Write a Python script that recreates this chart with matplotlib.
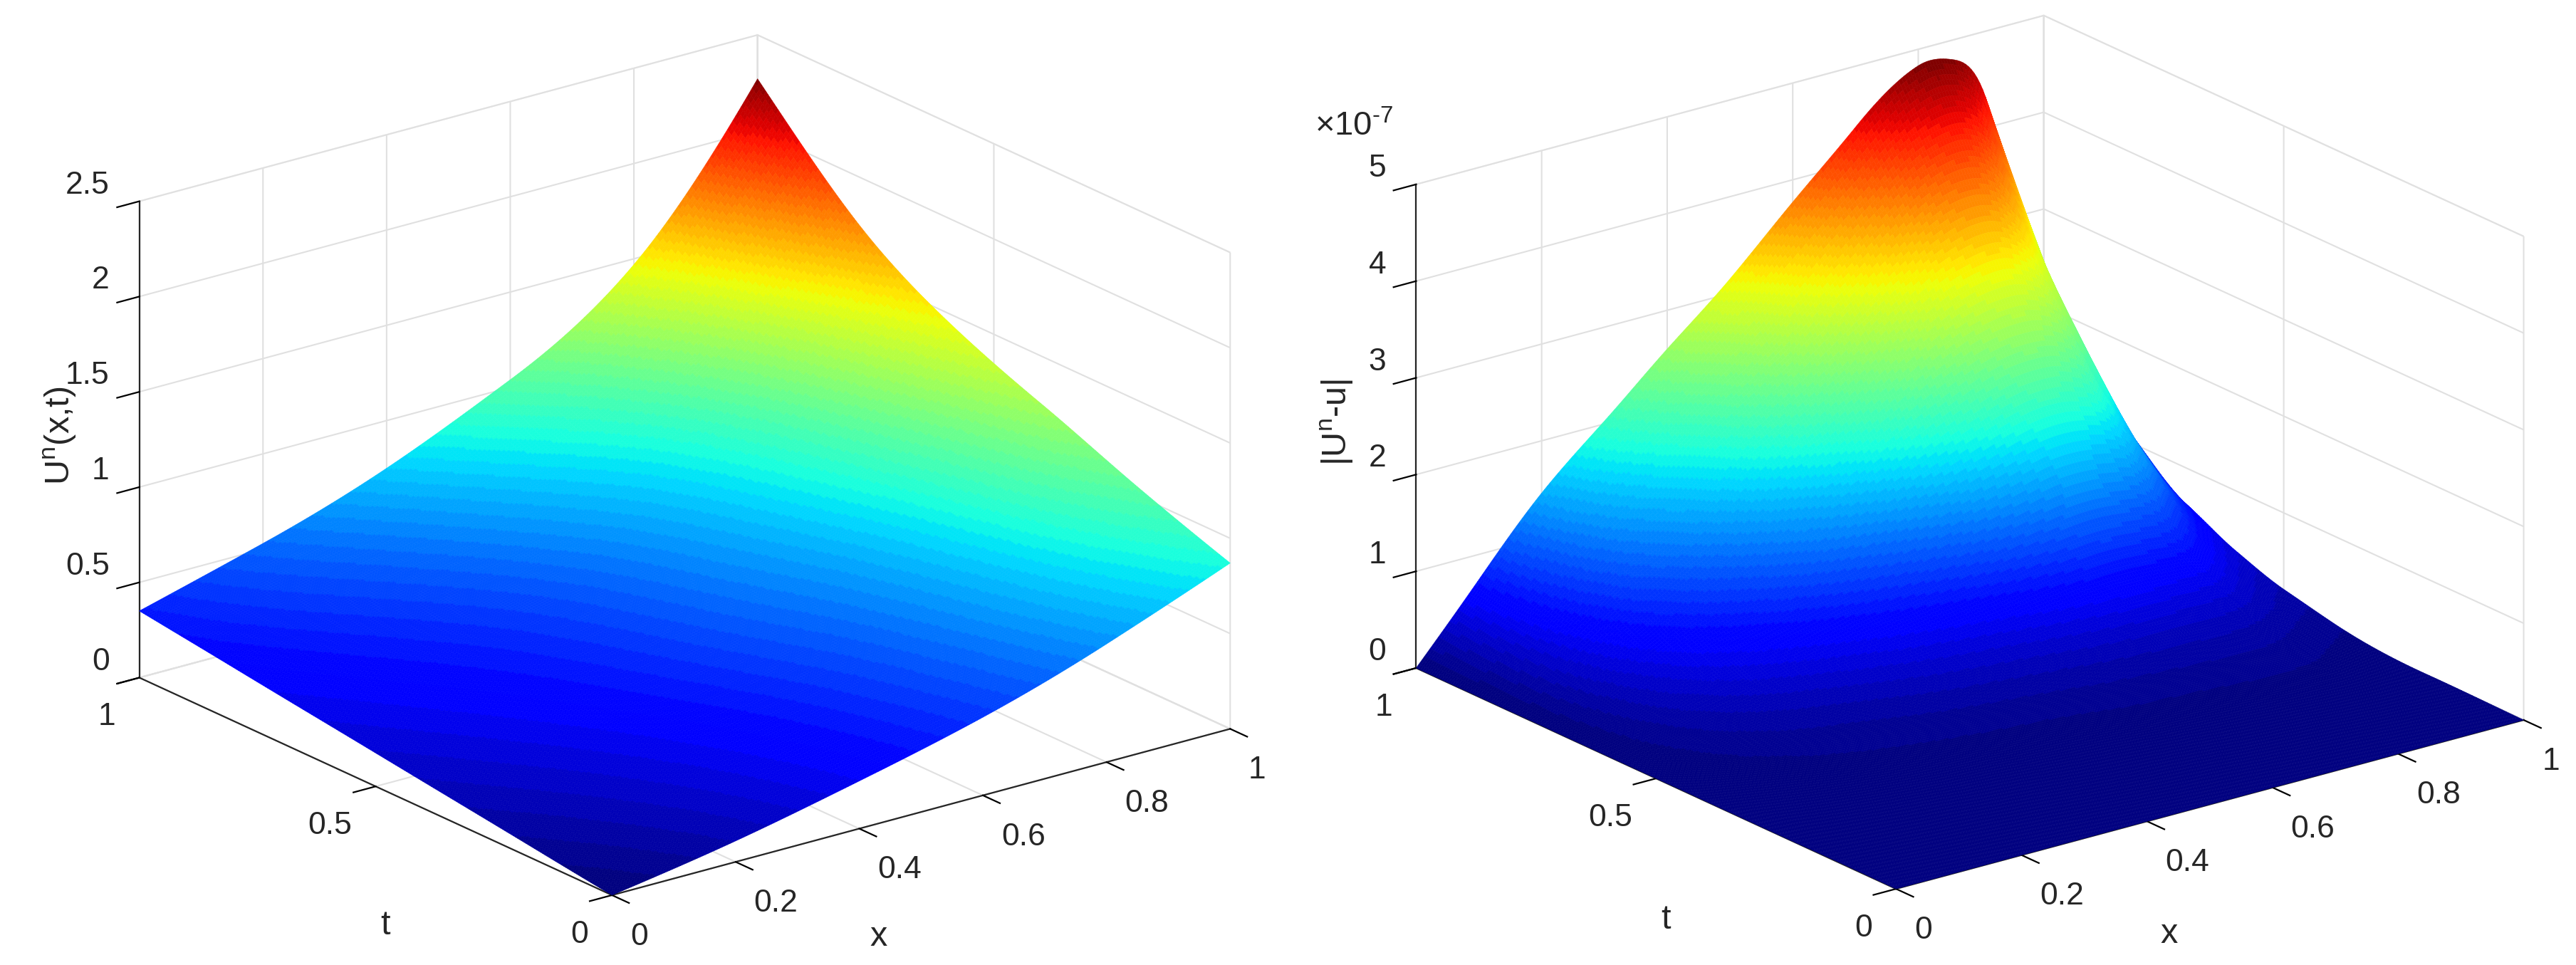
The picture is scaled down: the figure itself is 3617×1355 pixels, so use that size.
import numpy as np
import matplotlib
matplotlib.use('Agg')
import matplotlib.pyplot as plt
import matplotlib.tri as mtri

plt.rcParams['font.family'] = ['Liberation Sans', 'DejaVu Sans']
plt.rcParams['mathtext.fontset'] = 'custom'
plt.rcParams['mathtext.rm'] = 'Liberation Sans'
plt.rcParams['grid.color'] = '#e0e0e0'
plt.rcParams['grid.linewidth'] = 1.5
plt.rcParams['axes.linewidth'] = 1.6
plt.rcParams['axes.edgecolor'] = '#262626'

# values
x_left = [0, 0.2, 0.4, 0.6, 0.8, 1]
t_left = [0, 0.2, 0.4, 0.6, 0.8, 1]
u_left = [
    [0.00, 0.11, 0.25, 0.41, 0.62, 0.87],
    [0.07, 0.17, 0.30, 0.47, 0.72, 1.05],
    [0.14, 0.24, 0.37, 0.55, 0.82, 1.25],
    [0.21, 0.31, 0.44, 0.64, 0.95, 1.46],
    [0.28, 0.40, 0.56, 0.78, 1.14, 1.78],
    [0.35, 0.53, 0.75, 1.04, 1.47, 2.27],
]

x_right = [0, 0.1, 0.2, 0.3, 0.4, 0.5, 0.6, 0.7, 0.8, 0.85, 0.9, 0.95, 1]
t_right = [0, 0.2, 0.4, 0.5, 0.6, 0.7, 0.8, 0.9, 1]
err_right = [
    [0, 0, 0, 0, 0, 0, 0, 0, 0, 0, 0, 0, 0],
    [0, 0.004, 0.007, 0.01, 0.013, 0.016, 0.019, 0.022, 0.024, 0.024, 0.022, 0.016, 0.011],
    [0, 0.03, 0.066, 0.09, 0.117, 0.14, 0.17, 0.196, 0.21, 0.21, 0.19, 0.14, 0.10],
    [0, 0.08, 0.16, 0.22, 0.29, 0.35, 0.41, 0.48, 0.50, 0.48, 0.44, 0.31, 0.21],
    [0, 0.17, 0.34, 0.47, 0.60, 0.72, 0.86, 1.00, 1.05, 1.01, 0.88, 0.60, 0.38],
    [0, 0.30, 0.60, 0.83, 1.07, 1.29, 1.54, 1.78, 1.90, 1.83, 1.58, 1.06, 0.62],
    [0, 0.46, 0.91, 1.26, 1.61, 1.95, 2.33, 2.70, 2.85, 2.75, 2.36, 1.62, 1.01],
    [0, 0.60, 1.20, 1.66, 2.13, 2.58, 3.08, 3.57, 3.85, 3.72, 3.20, 2.35, 1.55],
    [0, 0.74, 1.46, 2.03, 2.60, 3.15, 3.77, 4.37, 4.83, 4.81, 4.45, 3.30, 2.30],
]

x_ticks = [0, 0.2, 0.4, 0.6, 0.8, 1]
x_ticklabels = ['0', '0.2', '0.4', '0.6', '0.8', '1']
t_ticks = [0, 0.5, 1]
t_ticklabels = ['0', '0.5', '1']
z_ticks_left = [0, 0.5, 1, 1.5, 2, 2.5]
z_ticklabels_left = ['0', '0.5', '1', '1.5', '2', '2.5']
z_ticks_right = [0, 1, 2, 3, 4, 5]
z_ticklabels_right = ['0', '1', '2', '3', '4', '5']

W, H = 3617, 1355
jet64 = plt.get_cmap('jet', 64)


def rect(x0, bottom, size):
    return [x0 / W, bottom / H, size / W, size / H]


def fine_surface(xs, ts, zs):
    # the tables only hold read values, this just refines them for painting the facets
    gx, gt = np.meshgrid(xs, ts)
    tri = mtri.Triangulation(gx.ravel(), gt.ravel())
    interp = mtri.CubicTriInterpolator(tri, np.array(zs, dtype=float).ravel(), kind='min_E')
    fx, ft = np.meshgrid(np.linspace(0, 1, 451), np.linspace(0, 1, 451))
    fz = np.ma.filled(interp(fx, ft), 0.0)
    return fx, ft, np.clip(fz, 0, None)


def draw_panel(position, xs, ts, zs, ztop, zticks, zticklabels, zlabel):
    ax = fig.add_axes(rect(*position), projection='3d', proj_type='ortho')
    ax.set_box_aspect((1, 1, 0.654))
    ax.view_init(elev=20.6, azim=-127.4)
    ax.patch.set_alpha(0)

    fx, ft, fz = fine_surface(xs, ts, zs)
    colors = jet64(plt.Normalize(0, np.max(zs))(fz))
    ax.plot_surface(fx, ft, fz, rcount=450, ccount=450, facecolors=colors,
                    shade=False, linewidth=0.4, antialiased=True)

    ax.set_xlim(0, 1, view_margin=0)
    ax.set_ylim(0, 1, view_margin=0)
    ax.set_zlim(0, ztop, view_margin=0)
    ax.set_xticks(x_ticks, x_ticklabels, ha='left')
    ax.set_yticks(t_ticks, t_ticklabels, ha='right')
    ax.set_zticks(zticks, zticklabels, ha='right', va='bottom')
    ax.tick_params(axis='both', labelsize=32, labelcolor='#262626', pad=16)
    ax.tick_params(axis='z', labelsize=32, labelcolor='#262626', pad=9)

    ax.zaxis.set_rotate_label(False)
    ax.set_zlabel(zlabel, fontsize=35, color='#262626', rotation=90, labelpad=24)

    for axis in (ax.xaxis, ax.yaxis, ax.zaxis):
        axis.pane.set_facecolor((1, 1, 1, 0))
        axis.pane.set_edgecolor('#e0e0e0')
        axis.pane.set_linewidth(1.5)
        axis._axinfo['tick']['inward_factor'] = 0.45
        axis._axinfo['tick']['outward_factor'] = 0.0
        axis._axinfo['tick']['linewidth'] = {True: 1.6, False: 1.0}
        axis._axinfo['tick']['color'] = '#262626'
    ax.zaxis.set_ticks_position('upper')
    ax.zaxis.set_label_position('upper')
    return ax


fig = plt.figure(figsize=(W / 100, H / 100), dpi=100)

draw_panel((112.8, -146.7, 1652.7), x_left, t_left, u_left, 2.5, z_ticks_left, z_ticklabels_left,
           r'U$^{\mathrm{n}}$(x,t)')
draw_panel((1904.3, -141.6, 1678), x_right, t_right, err_right, 5, z_ticks_right, z_ticklabels_right,
           r'|U$^{\mathrm{n}}$-u|')

# axis names sit further from the centre of the edge than mplot3d puts them
fig.text(1234 / W, 1 - 1316 / H, 'x', fontsize=35, color='#262626', ha='center', va='center')
fig.text(541 / W, 1 - 1300 / H, 't', fontsize=35, color='#262626', ha='center', va='center')
fig.text(3046 / W, 1 - 1312 / H, 'x', fontsize=35, color='#262626', ha='center', va='center')
fig.text(2339 / W, 1 - 1292 / H, 't', fontsize=35, color='#262626', ha='center', va='center')

# offset label of the right z axis
fig.text(1846 / W, 1 - 178 / H, r'$\times$10$^{\text{-7}}$', fontsize=34, color='#262626',
         ha='left', va='center')

fig.savefig('out.png', dpi=100)
